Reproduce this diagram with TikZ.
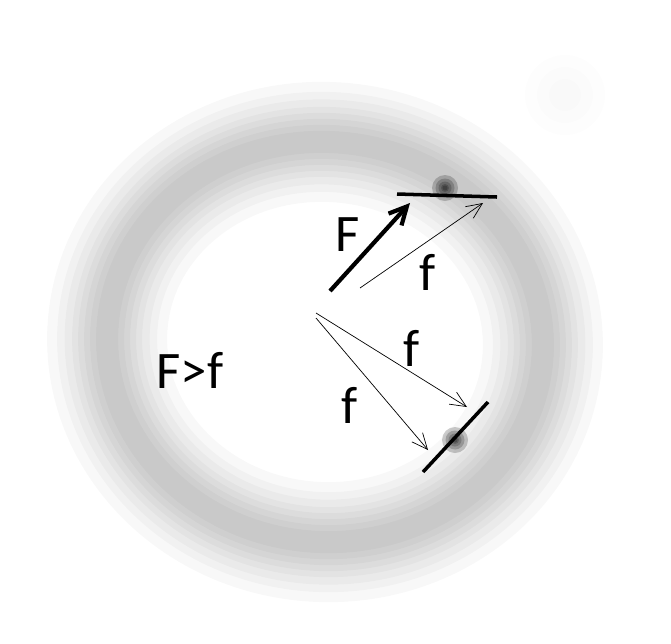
\documentclass[tikz,border=0pt]{standalone}
\usepackage{fontspec}
\setmainfont{Carlito}
\usetikzlibrary{arrows.meta}
\begin{document}
\begin{tikzpicture}[x=0.02cm,y=-0.02cm,
  thin arrow/.style={-{Straight Barb[length=9pt,width=8pt]},line width=0.4pt},
  thick arrow/.style={-{Straight Barb[length=10pt,width=10pt]},line width=2.4pt},
  lbl/.style={font=\fontsize{30}{30}\selectfont}]
\useasboundingbox[fill=white] (0,0) rectangle (671,643);
\foreach \w in {120,100,85,70,58,46,34,22} {
  \draw[line width=\w*0.02cm, black, opacity=0.028]
    (325,342) ellipse [x radius=218, y radius=200, rotate=-5];
}
\foreach \r in {26,19,13,8,5} {
  \fill[black,opacity=0.2] (445,188) circle (\r*0.5);
  \fill[black,opacity=0.2] (455,440) circle (\r*0.5);
}
\foreach \r in {40,28,16} \fill[black,opacity=0.008] (565,95) circle (\r);
\coordinate (t1) at (397,194); \coordinate (t2) at (497,197);
\coordinate (b1) at (423,472); \coordinate (b2) at (488,402);
\draw[line width=2pt] (t1) -- (t2);
\draw[line width=2pt] (b1) -- (b2);
\coordinate (Fs) at (330,291); \coordinate (Fe) at (410,203);
\coordinate (f1s) at (360,288); \coordinate (f1e) at (483,203);
\coordinate (f2s) at (316,313); \coordinate (f2e) at (467,407);
\coordinate (f3s) at (316,318); \coordinate (f3e) at (428,450);
\draw[thick arrow] (Fs) -- (Fe);
\draw[thin arrow] (f1s) -- (f1e);
\draw[thin arrow] (f2s) -- (f2e);
\draw[thin arrow] (f3s) -- (f3e);
\node[lbl] (lF) at (348,235) {F};
\node[lbl] (lf1) at (428,272) {f};
\node[lbl] (lf2) at (412,348) {f};
\node[lbl] (lf3) at (350,405) {f};
\node[lbl] (lFf) at (190,370) {F>f};
\end{tikzpicture}
\end{document}
